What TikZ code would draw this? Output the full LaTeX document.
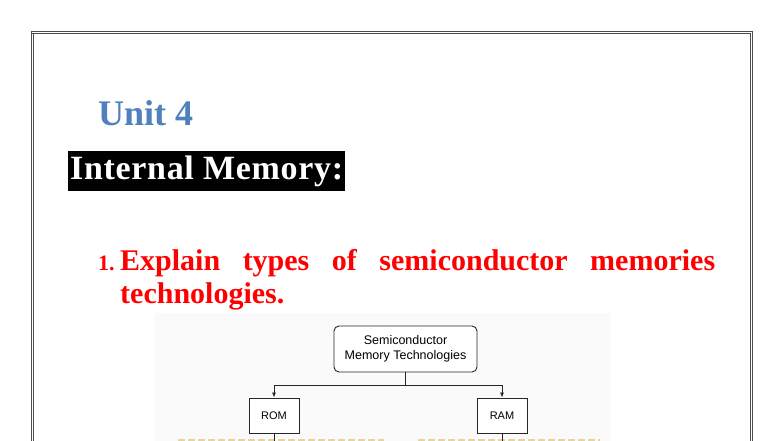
\documentclass[tikz,border=0pt]{standalone}
\usepackage{fontspec}
\setmainfont{Liberation Serif}
\newfontfamily\arialf{Liberation Sans}
\definecolor{unitblue}{HTML}{4F81BD}
\definecolor{tan}{HTML}{E6D49E}
\begin{document}
\begin{tikzpicture}[x=1pt,y=-1pt,
  box/.style={draw=black!85,line width=0.9pt,fill=white,font=\arialf\fontsize{12.5}{15}\selectfont,align=center,inner sep=0pt},
  arr/.style={-{Latex[length=5pt,width=4pt]},line width=0.8pt,black!85},
  ln/.style={line width=0.8pt,black!85}]
\usetikzlibrary{arrows.meta}
\useasboundingbox (0,0) rectangle (784,441);
\fill[white] (0,0) rectangle (784,441);
% page frame (double)
\draw[black!70,line width=0.6pt] (31,31) -- (752,31);
\draw[black!70,line width=0.6pt] (32,33) -- (751,33);
\draw[black!70,line width=0.6pt] (31,31) -- (31,445);
\draw[black!70,line width=0.6pt] (33,33) -- (33,445);
\draw[black!70,line width=0.6pt] (752,31) -- (752,445);
\draw[black!70,line width=0.6pt] (750,33) -- (750,445);
% headings
\node[anchor=base west,inner sep=0pt,text=unitblue,font=\bfseries\fontsize{36}{40}\selectfont] (unit) at (98,125) {Unit 4};
\node[anchor=base west,fill=black,text=white,inner xsep=2pt,inner ysep=0pt,minimum height=40pt,font=\bfseries\fontsize{34}{38}\selectfont] (im) at (68,179) {\addfontfeature{LetterSpace=2}Internal Memory:};
\node[anchor=base west,inner sep=0pt,text=red,font=\bfseries\fontsize{22}{26}\selectfont] (num) at (98,270) {1.};
\node[anchor=base west,inner sep=0pt,text=red,font=\bfseries\fontsize{30}{33}\selectfont] (q) at (120,270) {\makebox[595pt][s]{Explain\hfill types\hfill of\hfill semiconductor\hfill memories}};
\node[anchor=base west,inner sep=0pt,text=red,font=\bfseries\fontsize{30}{33}\selectfont] (q2) at (120,303) {technologies.};
% diagram background
\fill[black!2] (155,313) rectangle (610,441);
\node[box,rounded corners=5pt,minimum width=143pt,minimum height=46pt] (root) at (405.5,349) {Semiconductor\\Memory Technologies};
\node[box,minimum width=50pt,minimum height=35pt,font=\arialf\fontsize{11}{13}\selectfont] (rom) at (274,415.5) {ROM};
\node[box,minimum width=50pt,minimum height=35pt,font=\arialf\fontsize{11}{13}\selectfont] (ram) at (502,415.5) {RAM};
\coordinate (j) at (405.5,385);
\draw[ln] (root.south) -- (j);
\draw[arr] (j) -| (rom.north);
\draw[arr] (j) -| (ram.north);
\draw[tan,line width=2.5pt,dash pattern=on 7pt off 3pt] (178,440) -- (384,440);
\draw[tan,line width=2.5pt,dash pattern=on 7pt off 3pt] (418,440) -- (600,440);
\coordinate (rb) at (274,441);
\coordinate (ab) at (502,441);
\draw[ln] (rom.south) -- (rb);
\draw[ln] (ram.south) -- (ab);
\end{tikzpicture}
\end{document}
